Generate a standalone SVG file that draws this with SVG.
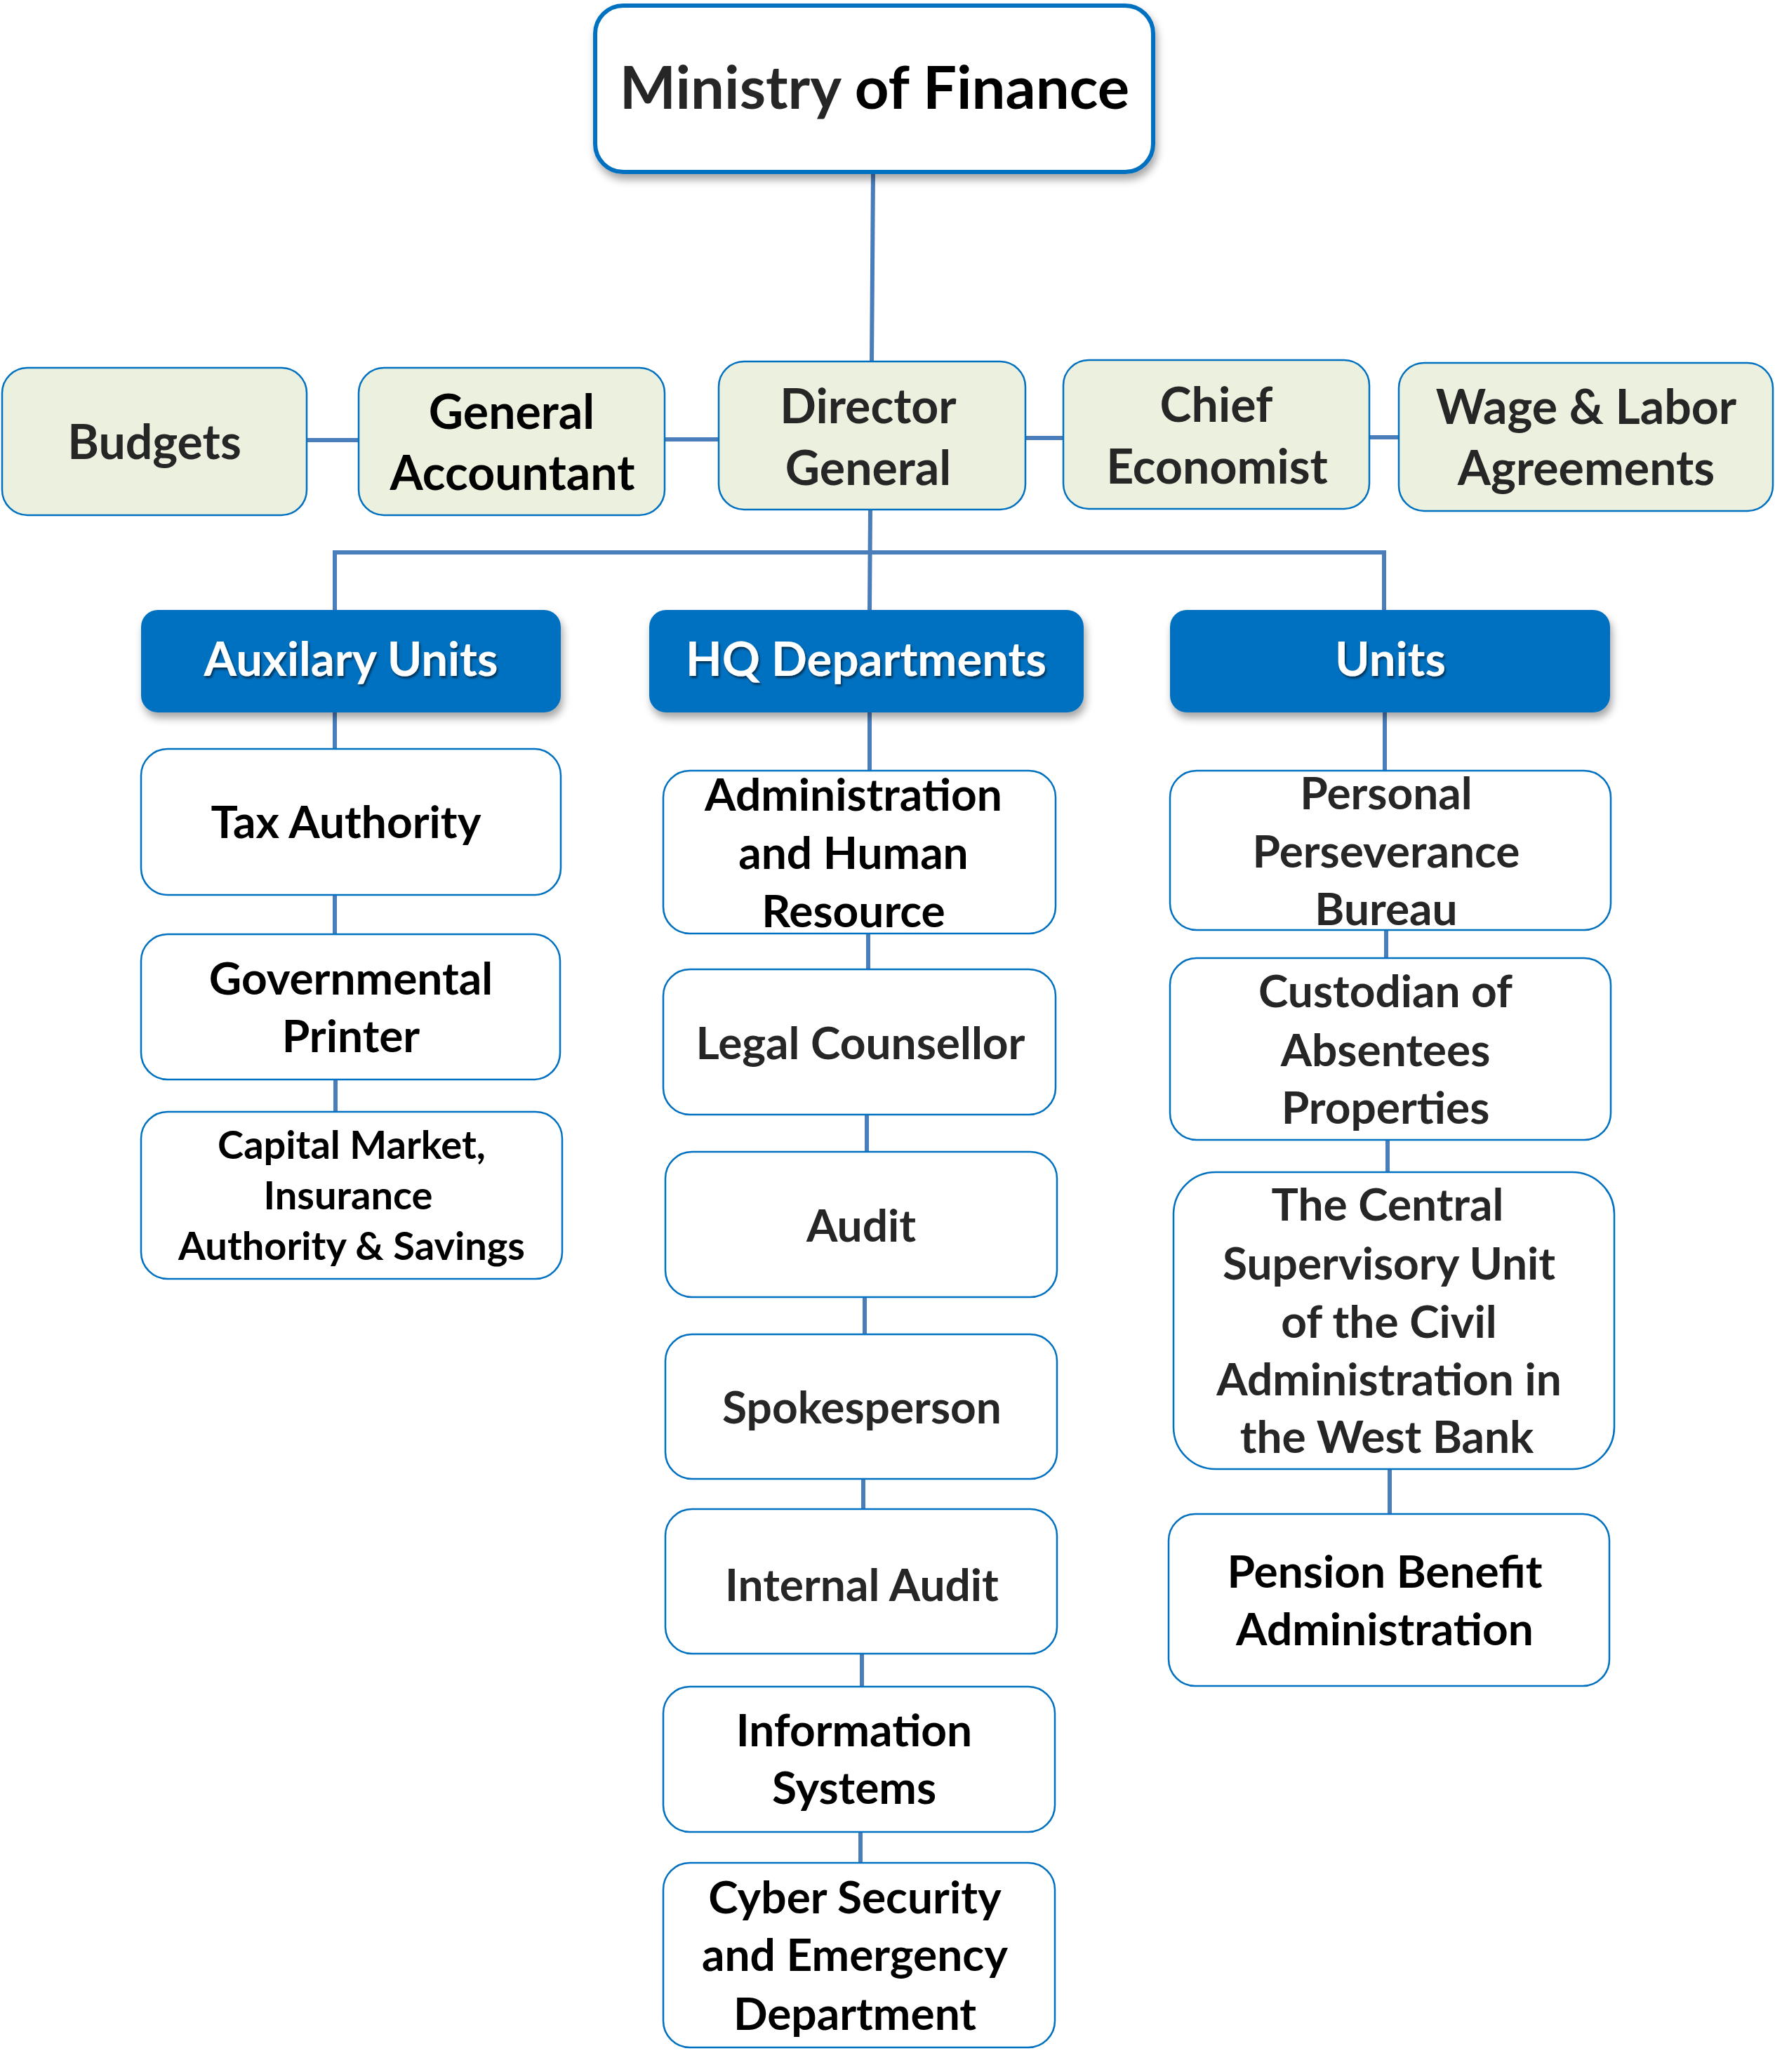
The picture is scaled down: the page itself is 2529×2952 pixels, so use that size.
<svg xmlns="http://www.w3.org/2000/svg" width="2529" height="2952" viewBox="0 0 2529 2952">
<style>
.bg{fill:#ffffff}
.conn{stroke:#4A7EBB;stroke-width:6;fill:none}
.top{fill:#ffffff;stroke:#0070C0;stroke-width:6}
.mgr{fill:#EBF1DE;stroke:#0070C0;stroke-width:2.5}
.hdr{fill:#0070C0;stroke:none}
.box{fill:#ffffff;stroke:#0070C0;stroke-width:2.5}
text{font-family:Lato,"Open Sans","Liberation Sans",sans-serif;font-weight:bold;text-anchor:middle}
.t{font-size:64px;fill:#000000}
.g{font-size:64px;fill:#262626}
.s{font-size:56px;fill:#000000}
.m{font-size:68px;fill:#262626}
.mb{font-size:68px;fill:#000000}
.h{font-size:67px;fill:#ffffff}
.big{font-size:85px;fill:#000000}
</style>
<defs>
<filter id="sh" x="-10%" y="-20%" width="125%" height="150%">
<feDropShadow dx="3" dy="8" stdDeviation="6" flood-color="#000000" flood-opacity="0.35"/>
</filter>
<filter id="tsh" x="-5%" y="-20%" width="110%" height="150%">
<feDropShadow dx="2" dy="3" stdDeviation="1.5" flood-color="#000000" flood-opacity="0.55"/>
</filter>
</defs>
<rect class="bg" x="0" y="0" width="2529" height="2952"/>

<g id="connectors">
<line class="conn" x1="1244" y1="245" x2="1242" y2="516"/>
<line class="conn" x1="437" y1="627" x2="512" y2="627"/>
<line class="conn" x1="947" y1="626" x2="1024" y2="626"/>
<line class="conn" x1="1461" y1="624" x2="1516" y2="624"/>
<line class="conn" x1="1951" y1="623" x2="1993" y2="623"/>
<line class="conn" x1="1240" y1="726" x2="1239" y2="870"/>
<line class="conn" x1="474" y1="787" x2="1975" y2="787"/>
<line class="conn" x1="477" y1="787" x2="477" y2="870"/>
<line class="conn" x1="1972" y1="787" x2="1972" y2="870"/>
<line class="conn" x1="477" y1="1015" x2="477" y2="1067"/>
<line class="conn" x1="477" y1="1275" x2="477" y2="1331"/>
<line class="conn" x1="478" y1="1538" x2="478" y2="1584"/>
<line class="conn" x1="1239" y1="1013" x2="1239" y2="1098"/>
<line class="conn" x1="1237" y1="1330" x2="1237" y2="1381"/>
<line class="conn" x1="1235" y1="1588" x2="1235" y2="1641"/>
<line class="conn" x1="1232" y1="1848" x2="1232" y2="1901"/>
<line class="conn" x1="1230" y1="2107" x2="1230" y2="2150"/>
<line class="conn" x1="1228" y1="2356" x2="1228" y2="2403"/>
<line class="conn" x1="1226" y1="2610" x2="1226" y2="2654"/>
<line class="conn" x1="1973" y1="1015" x2="1973" y2="1098"/>
<line class="conn" x1="1975" y1="1325" x2="1975" y2="1365"/>
<line class="conn" x1="1977" y1="1624" x2="1977" y2="1670"/>
<line class="conn" x1="1980" y1="2093" x2="1980" y2="2157"/>
</g>

<g id="ministry">
<rect class="top" filter="url(#sh)" x="848" y="8" width="795" height="237" rx="40"/>
<text class="big" x="1246" y="155"><tspan fill="#262626">Ministry</tspan> of Finance</text>
</g>

<g id="budgets">
<rect class="mgr" x="3" y="524" width="434" height="210" rx="36"/>
<text class="m" x="220" y="654">Budgets</text>
</g>
<g id="general-accountant">
<rect class="mgr" x="511" y="524" width="436" height="210" rx="36"/>
<text class="mb" x="729" y="611">General</text>
<text class="mb" x="730" y="698">Accountant</text>
</g>
<g id="director-general">
<rect class="mgr" x="1024" y="515" width="437" height="211" rx="36"/>
<text class="m" x="1237" y="603">Director</text>
<text class="m" x="1237" y="691">General</text>
</g>
<g id="chief-economist">
<rect class="mgr" x="1515" y="513" width="436" height="212" rx="36"/>
<text class="m" x="1733" y="601">Chief</text>
<text class="m" x="1734" y="689">Economist</text>
</g>
<g id="wage-labor">
<rect class="mgr" x="1993" y="517" width="533" height="211" rx="36"/>
<text class="m" x="2260" y="604">Wage &amp; Labor</text>
<text class="m" x="2260" y="691">Agreements</text>
</g>

<g id="auxilary-units">
<rect class="hdr" filter="url(#sh)" x="201" y="869" width="598" height="146" rx="24"/>
<text class="h" filter="url(#tsh)" x="500" y="963">Auxilary Units</text>
</g>
<g id="hq-departments">
<rect class="hdr" filter="url(#sh)" x="925" y="869" width="619" height="146" rx="24"/>
<text class="h" filter="url(#tsh)" x="1234" y="963">HQ Departments</text>
</g>
<g id="units">
<rect class="hdr" filter="url(#sh)" x="1667" y="869" width="627" height="146" rx="24"/>
<text class="h" filter="url(#tsh)" x="1981" y="963">Units</text>
</g>

<g id="tax-authority">
<rect class="box" x="201" y="1067" width="598" height="208" rx="38"/>
<text class="t" x="493" y="1194">Tax Authority</text>
</g>
<g id="governmental-printer">
<rect class="box" x="201" y="1331" width="597" height="207" rx="38"/>
<text class="t" x="500" y="1417">Governmental</text>
<text class="t" x="500" y="1499">Printer</text>
</g>
<g id="capital-market">
<rect class="box" x="201" y="1584" width="600" height="238" rx="38"/>
<text class="s" x="501" y="1651">Capital Market,</text>
<text class="s" x="496" y="1723">Insurance</text>
<text class="s" x="501" y="1795">Authority &amp; Savings</text>
</g>

<g id="admin-hr">
<rect class="box" x="945" y="1098" width="559" height="232" rx="38"/>
<text class="t" x="1216" y="1155">Administration</text>
<text class="t" x="1216" y="1238">and Human</text>
<text class="t" x="1216" y="1321">Resource</text>
</g>
<g id="legal-counsellor">
<rect class="box" x="945" y="1381" width="559" height="207" rx="38"/>
<text class="g" x="1226" y="1509">Legal Counsellor</text>
</g>
<g id="audit">
<rect class="box" x="948" y="1641" width="558" height="207" rx="38"/>
<text class="g" x="1227" y="1769">Audit</text>
</g>
<g id="spokesperson">
<rect class="box" x="948" y="1901" width="558" height="206" rx="38"/>
<text class="g" x="1228" y="2028">Spokesperson</text>
</g>
<g id="internal-audit">
<rect class="box" x="948" y="2150" width="558" height="206" rx="38"/>
<text class="g" x="1228" y="2281">Internal Audit</text>
</g>
<g id="information-systems">
<rect class="box" x="945" y="2403" width="558" height="207" rx="38"/>
<text class="t" x="1217" y="2488">Information</text>
<text class="t" x="1217" y="2570">Systems</text>
</g>
<g id="cyber-security">
<rect class="box" x="945" y="2654" width="558" height="263" rx="38"/>
<text class="t" x="1218" y="2726">Cyber Security</text>
<text class="t" x="1218" y="2808">and Emergency</text>
<text class="t" x="1218" y="2892">Department</text>
</g>

<g id="personal-perseverance">
<rect class="box" x="1667" y="1098" width="628" height="227" rx="38"/>
<text class="g" x="1975" y="1153">Personal</text>
<text class="g" x="1975" y="1236">Perseverance</text>
<text class="g" x="1975" y="1318">Bureau</text>
</g>
<g id="custodian">
<rect class="box" x="1667" y="1365" width="628" height="259" rx="38"/>
<text class="g" x="1974" y="1435">Custodian of</text>
<text class="g" x="1974" y="1519">Absentees</text>
<text class="g" x="1974" y="1601">Properties</text>
</g>
<g id="central-supervisory">
<rect class="box" x="1672" y="1670" width="628" height="423" rx="60"/>
<text class="g" x="1977" y="1739">The Central</text>
<text class="g" x="1979" y="1823">Supervisory Unit</text>
<text class="g" x="1979" y="1906">of the Civil</text>
<text class="g" x="1979" y="1988">Administration in</text>
<text class="g" x="1976" y="2070">the West Bank</text>
</g>
<g id="pension-benefit">
<rect class="box" x="1665" y="2157" width="628" height="245" rx="38"/>
<text class="t" x="1973" y="2262">Pension Benefit</text>
<text class="t" x="1973" y="2344">Administration</text>
</g>
</svg>
